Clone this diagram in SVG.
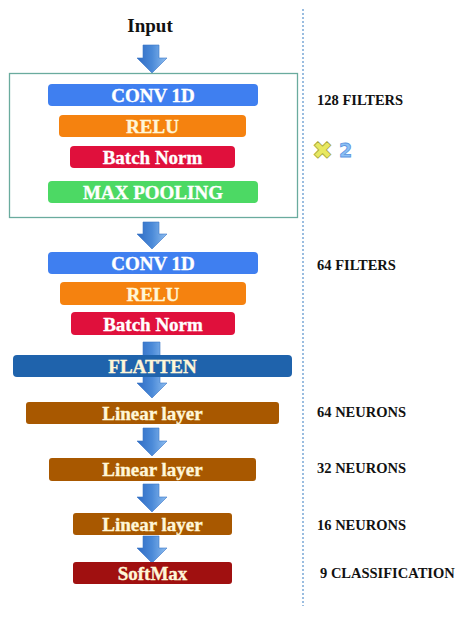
<svg xmlns="http://www.w3.org/2000/svg" width="474" height="619" viewBox="0 0 474 619">
<defs>
<linearGradient id="ag" x1="0" y1="0" x2="1" y2="0">
<stop offset="0" stop-color="#2f6cc4"/>
<stop offset="0.5" stop-color="#4b8ad8"/>
<stop offset="1" stop-color="#8fbef0"/>
</linearGradient>
<style>
.t{font-family:"Liberation Serif","Times New Roman",serif;font-weight:bold;text-anchor:middle;font-size:19px;stroke-width:0.35px}
.w{fill:#ffffff;stroke:#ffffff}
.c{fill:#fff6d8;stroke:#fff6d8}
.lab{font-family:"Liberation Serif","Times New Roman",serif;font-weight:bold;font-size:14.5px;fill:#111}
.arr{fill:url(#ag);stroke:#3a76c8;stroke-width:0.6}
</style>
</defs>
<rect width="474" height="619" fill="#ffffff"/>
<line x1="303" y1="9" x2="303" y2="606" stroke="#7aa8d6" stroke-width="1.5" stroke-dasharray="2,2"/>
<text class="t" x="150" y="32" fill="#111" font-size="19">Input</text>
<g id="connectors">
<path class="arr" d="M143,45 H159 V58 H167 L152,73 L137,58 H143 Z"/>
<path class="arr" d="M143,222 H159 V234 H167 L152,249 L137,234 H143 Z"/>
<path class="arr" d="M143,342 H160 V383 H167 L152,398 L137,383 H143 Z"/>
<path class="arr" d="M143,428 H159 V441 H167 L152,456 L137,441 H143 Z"/>
<path class="arr" d="M143,484 H159 V497 H167 L152,512 L137,497 H143 Z"/>
<path class="arr" d="M143,536 H159 V548 H167 L152,563 L137,548 H143 Z"/>
</g>
<g id="block1">
<rect x="9.5" y="73.5" width="288" height="144" fill="none" stroke="#6aab9e" stroke-width="1.3"/>
</g>
<g id="conv1">
<rect x="48" y="84" width="210" height="22" rx="4" fill="#3f7ff0"/>
<text class="t w" x="153" y="102">CONV 1D</text>
</g>
<g id="relu1">
<rect x="59" y="115" width="187" height="22" rx="4" fill="#f5820f"/>
<text class="t c" x="152.5" y="133">RELU</text>
</g>
<g id="bn1">
<rect x="70" y="146" width="165" height="22" rx="4" fill="#e0103c"/>
<text class="t w" x="152.5" y="164">Batch Norm</text>
</g>
<g id="maxpool">
<rect x="48" y="181" width="210" height="22" rx="4" fill="#4cd964"/>
<text class="t w" x="153" y="199">MAX POOLING</text>
</g>
<g id="conv2">
<rect x="48" y="252" width="210" height="22" rx="4" fill="#3f7ff0"/>
<text class="t w" x="153" y="270">CONV 1D</text>
</g>
<g id="relu2">
<rect x="60" y="282" width="186" height="23" rx="4" fill="#f5820f"/>
<text class="t c" x="153" y="300.5">RELU</text>
</g>
<g id="bn2">
<rect x="71" y="312" width="164" height="23" rx="4" fill="#e0103c"/>
<text class="t w" x="153" y="330.5">Batch Norm</text>
</g>
<g id="flatten">
<rect x="13" y="355" width="279" height="22" rx="4" fill="#1f63ac"/>
<text class="t c" x="152.5" y="373">FLATTEN</text>
</g>
<g id="linear1">
<rect x="26" y="402" width="253" height="22" rx="3" fill="#a85800"/>
<text class="t c" x="152.5" y="419.5">Linear layer</text>
</g>
<g id="linear2">
<rect x="49" y="458" width="207" height="23" rx="3" fill="#a85800"/>
<text class="t c" x="152.5" y="476">Linear layer</text>
</g>
<g id="linear3">
<rect x="73" y="513" width="159" height="22" rx="3" fill="#a85800"/>
<text class="t c" x="152.5" y="530.5">Linear layer</text>
</g>
<g id="softmax">
<rect x="73" y="562" width="159" height="22" rx="3" fill="#a01010"/>
<text class="t c" x="152.5" y="579.5">SoftMax</text>
</g>
<g id="labels">
<text class="lab" x="317" y="105">128 FILTERS</text>
<text x="312" y="159" font-family="DejaVu Sans,sans-serif" font-weight="bold" font-size="25" fill="#e8e860" stroke="#a8a840" stroke-width="0.8">✖</text>
<text x="339" y="157" font-family="DejaVu Sans,sans-serif" font-weight="bold" font-size="19" fill="#8cc0f4" stroke="#5c94e0" stroke-width="0.8">2</text>
<text class="lab" x="317" y="270">64 FILTERS</text>
<text class="lab" x="317" y="417">64 NEURONS</text>
<text class="lab" x="317" y="473">32 NEURONS</text>
<text class="lab" x="317" y="530">16 NEURONS</text>
<text class="lab" x="320" y="578">9 CLASSIFICATION</text>
</g>
</svg>
